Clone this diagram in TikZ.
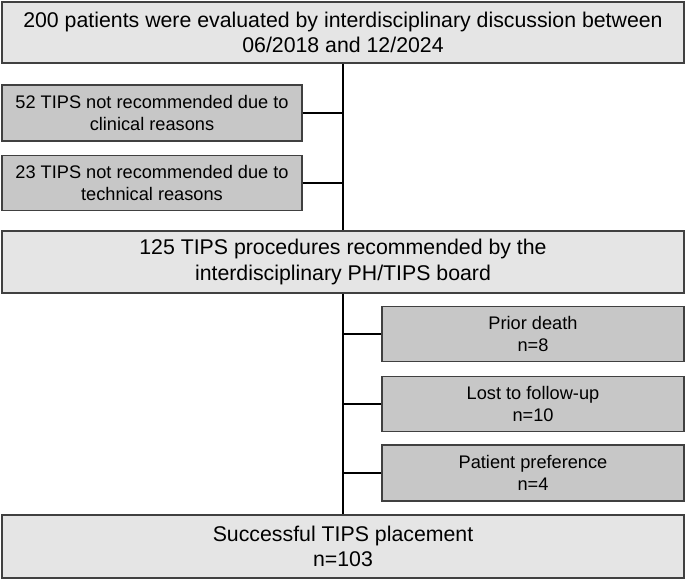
\documentclass[tikz,border=0pt]{standalone}
\usepackage{fontspec}
\setmainfont{Liberation Sans}
\begin{document}
\begin{tikzpicture}[x=1pt,y=-1pt,
  bigbox/.style={draw=black!75,line width=1.2pt,fill=black!10,align=center,inner sep=0pt,
    minimum width=682pt,font=\fontsize{21.3}{25.5}\selectfont},
  smallbox/.style={draw=black!75,line width=1.2pt,fill=black!22,align=center,inner sep=0pt,
    font=\fontsize{18.2}{22}\selectfont},
  conn/.style={draw=black,line width=2pt}]
\useasboundingbox (0,0) rectangle (685,579);
\node[bigbox,minimum height=61pt] (top) at (343,32.5) {200 patients were evaluated by interdisciplinary discussion between\\06/2018 and 12/2024};
\node[smallbox,minimum width=300pt,minimum height=56pt] (b1) at (152,113) {52 TIPS not recommended due to\\clinical reasons};
\node[smallbox,minimum width=300pt,minimum height=55pt] (b2) at (152,183) {23 TIPS not recommended due to\\technical reasons};
\node[bigbox,minimum height=62pt] (mid) at (343,262) {125 TIPS procedures recommended by the\\interdisciplinary PH/TIPS board};
\node[smallbox,minimum width=302pt,minimum height=55pt] (r1) at (533,334) {Prior death\\n=8};
\node[smallbox,minimum width=302pt,minimum height=55pt] (r2) at (533,404) {Lost to follow-up\\n=10};
\node[smallbox,minimum width=302pt,minimum height=56pt] (r3) at (533,473) {Patient preference\\n=4};
\node[bigbox,minimum height=63pt] (bot) at (343,546.5) {Successful TIPS placement\\n=103};
\draw[conn] (top.south) -- (mid.north);
\draw[conn] (mid.south) -- (bot.north);
\draw[conn] (b1.east) -- (b1.east -| top.south);
\draw[conn] (b2.east) -- (b2.east -| top.south);
\draw[conn] (r1.west) -- (r1.west -| mid.south);
\draw[conn] (r2.west) -- (r2.west -| mid.south);
\draw[conn] (r3.west) -- (r3.west -| mid.south);
\end{tikzpicture}
\end{document}
